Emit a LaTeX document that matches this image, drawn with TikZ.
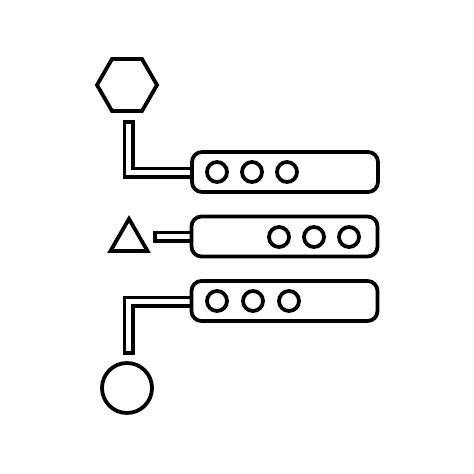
\documentclass[tikz,border=0pt]{standalone}
\usetikzlibrary{shapes.geometric,calc}
\begin{document}
\begin{tikzpicture}[x=1pt,y=-1pt,
  stroke/.style={draw=black,line width=3.8pt,fill=white},
  rack/.style={stroke,rectangle,rounded corners=10pt,minimum width=186pt,minimum height=40pt,inner sep=0pt},
  led/.style={stroke,circle,minimum size=20pt,inner sep=0pt},
  pipeout/.style={line width=12pt,line join=miter},
  pipein/.style={white,line width=4.4pt,line join=miter,shorten <=3.8pt}]
\useasboundingbox (0,0) rectangle (474,474);
% end shapes
\node[stroke,regular polygon,regular polygon sides=6,minimum size=60pt,inner sep=0pt] (hex) at (127,85) {};
\node[stroke,regular polygon,regular polygon sides=3,minimum size=42.8pt,inner sep=0pt,line join=miter] (tri) at (129,240.3) {};
\node[stroke,circle,minimum size=50pt,inner sep=0pt] (ball) at (127,388) {};
% connector ends
\coordinate (h1) at (128.5,120);
\coordinate (t1) at (153,236.5);
\coordinate (c1) at (128.5,355);
% pipes
\coordinate (b1w) at (193,172.5);
\coordinate (b2w) at (193,236.5);
\coordinate (b3w) at (193,301.5);
\draw[pipeout] (h1) |- (b1w);
\draw[pipein] (h1) |- (b1w);
\draw[pipeout] (t1) -- (b2w);
\draw[pipein] (t1) -- (b2w);
\draw[pipeout] (c1) |- (b3w);
\draw[pipein] (c1) |- (b3w);
% racks
\node[rack] (box1) at (285,172) {};
\node[rack] (box2) at (284.5,236.5) {};
\node[rack] (box3) at (284.5,301) {};
% leds
\node[led] (l11) at (217,172) {};
\node[led] (l12) at (252,172) {};
\node[led] (l13) at (287,172) {};
\node[led] (l21) at (279,237) {};
\node[led] (l22) at (314,237) {};
\node[led] (l23) at (349,237) {};
\node[led] (l31) at (217,301) {};
\node[led] (l32) at (253,301) {};
\node[led] (l33) at (289,301) {};
\end{tikzpicture}
\end{document}
